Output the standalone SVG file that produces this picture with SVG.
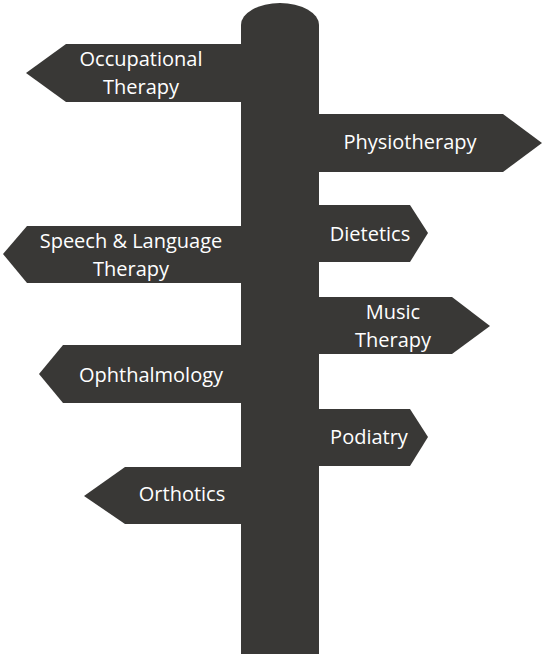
<svg xmlns="http://www.w3.org/2000/svg" width="544" height="656" viewBox="0 0 544 656">
<style>
.s{fill:#393836;}
.t{fill:#ffffff;font-family:"Open Sans",sans-serif;font-size:20px;text-anchor:middle;}
</style>
<rect width="544" height="656" fill="#ffffff"/>
<g id="post">
<ellipse class="s" cx="280" cy="25" rx="39" ry="22"/>
<rect class="s" x="241" y="25" width="78" height="629"/>
</g>
<g id="occupational">
<polygon class="s" points="241,44 66,44 26,73 66,102 241,102"/>
<text class="t" x="141" y="66">Occupational</text>
<text class="t" x="141" y="94">Therapy</text>
</g>
<g id="physiotherapy">
<polygon class="s" points="319,114 503,114 542,143 503,172 319,172"/>
<text class="t" x="410" y="149">Physiotherapy</text>
</g>
<g id="speech">
<polygon class="s" points="241,226 27,226 3,254 27,283 241,283"/>
<text class="t" x="131" y="248">Speech &amp; Language</text>
<text class="t" x="131" y="276">Therapy</text>
</g>
<g id="dietetics">
<polygon class="s" points="319,205 410,205 428,233 410,262 319,262"/>
<text class="t" x="370" y="241">Dietetics</text>
</g>
<g id="music">
<polygon class="s" points="319,297 452,297 490,326 452,354 319,354"/>
<text class="t" x="393" y="319">Music</text>
<text class="t" x="393" y="347">Therapy</text>
</g>
<g id="ophthalmology">
<polygon class="s" points="241,345 63,345 39,374 63,403 241,403"/>
<text class="t" x="151" y="382">Ophthalmology</text>
</g>
<g id="podiatry">
<polygon class="s" points="319,409 410,409 428,437 410,466 319,466"/>
<text class="t" x="369" y="444">Podiatry</text>
</g>
<g id="orthotics">
<polygon class="s" points="241,467 125,467 84,496 125,524 241,524"/>
<text class="t" x="182" y="501">Orthotics</text>
</g>
<g id="connectors"/>
</svg>
